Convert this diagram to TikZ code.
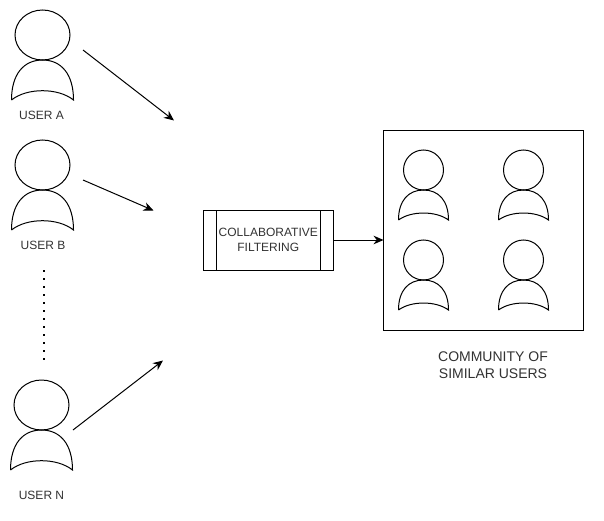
\documentclass[tikz,border=0pt]{standalone}
\usepackage{fontspec}
\setmainfont{Liberation Sans}
\usetikzlibrary{arrows.meta}

\definecolor{labelgray}{RGB}{50,50,50}

\tikzset{
  shapeline/.style={draw=black,line width=0.75pt},
  flowarrow/.style={shapeline,-{Stealth[length=7.5pt,width=6.5pt]}},
  userlabel/.style={inner sep=0.75pt,text=labelgray,font=\fontsize{9pt}{11pt}\selectfont,align=center},
  commlabel/.style={inner sep=0.75pt,text=labelgray,font=\fontsize{10.5pt}{12.9pt}\selectfont,align=center},
  procbox/.style={shapeline,minimum width=97.5pt,minimum height=45pt,inner sep=0pt},
  commbox/.style={shapeline,minimum width=150pt,minimum height=150pt,inner sep=0pt}
}

% x, neck y, head radii, body half width, body height
\newcommand{\userfig}[6]{
  \draw [shapeline] (#1,#2-#4) ellipse [x radius=#3,y radius=#4];
  \draw [shapeline] (#1-#5,#2+#6) .. controls (#1-#5,#2+#6*0.35) and (#1-#5*0.6,#2) .. (#1,#2)
    .. controls (#1+#5*0.6,#2) and (#1+#5,#2+#6*0.35) .. (#1+#5,#2+#6)
    .. controls (#1+#5*0.5,#2+#6*0.69) and (#1-#5*0.5,#2+#6*0.69) .. (#1-#5,#2+#6);
}

\begin{document}
\begin{tikzpicture}[x=0.75pt,y=0.75pt,yscale=-1,xscale=1]
\useasboundingbox (0,0) rectangle (604,521);

%Users on the left
\userfig{42.5}{60}{27.5}{25}{31}{40}
\userfig{42.5}{190}{27.5}{25}{31}{40}
\userfig{41.5}{430}{27.5}{25}{31}{40}

% Text Node
\node (lblusera) at (41.5,115) [userlabel] {USER A};
\node (lbluserb) at (43,245) [userlabel] {USER B};
\node (lblusern) at (41.5,495) [userlabel] {USER N};

%Dots between the users
\coordinate (dotstart) at (43.5,270);
\coordinate (dotend) at (43.5,361);
\draw [line width=1.5pt,dash pattern=on 1.5pt off 4.5pt] (dotstart) -- (dotend);

%Process box
\node (proc) at (268.3,240) [procbox,commlabel,font=\fontsize{9pt}{11.6pt}\selectfont] {COLLABORATIVE\\FILTERING};
\coordinate (proclefta) at (216.7,210);
\coordinate (procleftb) at (216.7,270);
\coordinate (procrighta) at (320.5,210);
\coordinate (procrightb) at (320.5,270);
\draw [shapeline] (proclefta) -- (procleftb);
\draw [shapeline] (procrighta) -- (procrightb);

%Community box
\node (comm) at (483.5,230) [commbox] {};
\userfig{423.5}{190}{20}{20}{25}{30}
\userfig{523.5}{190}{20}{20}{25}{30}
\userfig{423.5}{280}{20}{20}{25}{30}
\userfig{523.5}{280}{20}{20}{25}{30}

% Text Node
\node (lblcomm) at (493,365.5) [commlabel] {COMMUNITY OF\\SIMILAR USERS};

%Straight Lines
\coordinate (froma) at (83,50);
\coordinate (toa) at (174,120.5);
\coordinate (fromb) at (83,180);
\coordinate (tob) at (153.5,210.5);
\coordinate (fromn) at (73,430);
\coordinate (ton) at (163,360.5);
\coordinate (commin) at (383.5,240);
\draw [flowarrow] (froma) -- (toa);
\draw [flowarrow] (fromb) -- (tob);
\draw [flowarrow] (fromn) -- (ton);
\draw [flowarrow] (proc.east) -- (commin);

\end{tikzpicture}
\end{document}
